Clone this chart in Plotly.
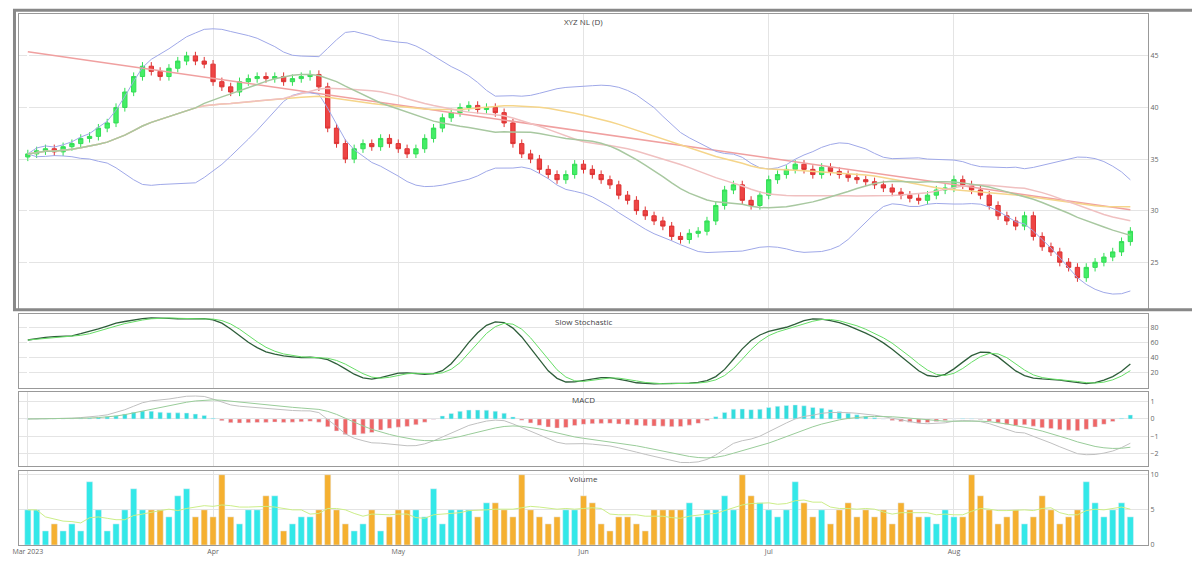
import numpy as np, pandas as pd
import plotly.graph_objects as go
from plotly.subplots import make_subplots

closes = [35.5,35.8,36.0,35.7,36.2,36.5,37.0,37.2,38.0,38.5,40.0,41.5,43.0,
          44,43.5,43,43.8,44.5,45,44.5,44.2,
          42.5,42,41.5,42.5,42.8,43,42.8,43,42.5,42.8,43,43.2,
          42,38,36.5,35,
          36,36.5,36.2,37,36.5,36,35.5,36,37,38,
          39,39.5,40,40.2,39.8,40,39.5,38.5,
          36.5,35.5,35,34,33.5,33,33.5,34.5,
          34,33.5,33,32.5,31.5,31,30,29.5,29,28.5,
          27.5,27.2,27.8,28,29,30.5,32,
          32.5,31,30.5,31.5,33,33.5,
          34,34.5,34,33.5,34.2,33.8,33.5,33.2,33,32.8,
          32.5,32.2,31.8,31.5,31.2,31,31.5,32,32.2,
          33,32.5,32,31.5,30.5,29.5,
          29,28.5,29.5,27.5,26.5,26,25,24.5,23.5,
          24.5,25,25.5,26,27,28]
volume = [5,5,2,3,2,3,2,9,5,2,3,5,8,
          5,5,5,4,7,8,4,5,4,10,4,3,
          5,5,7,7,2,3,4,4,5,10,
          5,3,2,3,5,2,4,5,5,5,4,
          8,3,5,5,5,4,6,6,5,4,
          10,5,4,3,4,5,5,7,6,
          3,2,4,4,3,2,5,5,5,
          5,6,4,5,5,7,5,
          10,7,6,5,4,5,9,
          6,4,5,3,5,6,4,5,4,
          5,3,6,5,4,4,3,5,4,
          4,10,7,5,3,4,5,3,4,
          7,5,3,4,5,9,6,4,5,
          6,4,8,5,6]
volume = volume[:len(closes)]
month_ticks = [0, 21, 42, 63, 84, 105]
month_labels = ["Mar 2023", "Apr", "May", "Jun", "Jul", "Aug"]

c = pd.Series(closes)
o = c.shift(1).fillna(c.iloc[0] - 0.3)
h = np.maximum(o, c) + 0.4
l = np.minimum(o, c) - 0.4
x = np.arange(len(c))
sma20 = c.rolling(20, min_periods=1).mean()
sma30 = c.rolling(30, min_periods=1).mean()
sma50 = c.rolling(50, min_periods=1).mean()
sd = c.rolling(20, min_periods=1).std().fillna(0)
bbu, bbl = sma20 + 2*sd, sma20 - 2*sd
coef = np.polyfit(x, c, 1); trend = np.polyval(coef, x) + 3
lo14 = pd.Series(l).rolling(14, min_periods=1).min(); hi14 = pd.Series(h).rolling(14, min_periods=1).max()
k = (100*(c-lo14)/(hi14-lo14)).rolling(5, min_periods=1).mean().rolling(3, min_periods=1).mean()
d = k.rolling(3, min_periods=1).mean()
macd = c.ewm(span=12).mean() - c.ewm(span=26).mean()
sig = macd.ewm(span=9).mean(); hist = macd - sig
vol = pd.Series(volume); vma = vol.rolling(10, min_periods=1).mean()
up = c >= o

fig = make_subplots(rows=4, cols=1, shared_xaxes=True, vertical_spacing=0.01,
                    row_heights=[0.55, 0.14, 0.14, 0.15])
fig.add_trace(go.Scatter(x=x, y=trend, line=dict(color="#f0a0a0", width=1.5)), 1, 1)
fig.add_trace(go.Scatter(x=x, y=bbu, line=dict(color="#9fa8e8", width=1)), 1, 1)
fig.add_trace(go.Scatter(x=x, y=bbl, line=dict(color="#9fa8e8", width=1)), 1, 1)
fig.add_trace(go.Scatter(x=x, y=sma50, line=dict(color="#f5d58a", width=1.5)), 1, 1)
fig.add_trace(go.Scatter(x=x, y=sma30, line=dict(color="#f0c0c0", width=1.5)), 1, 1)
fig.add_trace(go.Scatter(x=x, y=sma20, line=dict(color="#a8c8a0", width=1.5)), 1, 1)
fig.add_trace(go.Candlestick(x=x, open=o, high=h, low=l, close=c,
        increasing=dict(line=dict(color="#33dd55", width=1), fillcolor="#44ee66"),
        decreasing=dict(line=dict(color="#dd3333", width=1), fillcolor="#ee4444")), 1, 1)
fig.add_trace(go.Scatter(x=x, y=k, line=dict(color="#2e5e3a", width=1.3)), 2, 1)
fig.add_trace(go.Scatter(x=x, y=d, line=dict(color="#66dd66", width=1)), 2, 1)
fig.add_trace(go.Bar(x=x, y=hist, marker_color=["#33dddd" if v >= 0 else "#ee6666" for v in hist], width=0.5), 3, 1)
fig.add_trace(go.Scatter(x=x, y=macd, line=dict(color="#c0c0c0", width=1)), 3, 1)
fig.add_trace(go.Scatter(x=x, y=sig, line=dict(color="#99cc99", width=1)), 3, 1)
fig.add_trace(go.Bar(x=x, y=vol, marker_color=["#33e8e8" if u else "#f5b030" for u in up], width=0.7), 4, 1)
fig.add_trace(go.Scatter(x=x, y=vma, line=dict(color="#ccee88", width=1)), 4, 1)

domains = [(0.444, 0.998), (0.296, 0.434), (0.148, 0.287), (0.0, 0.139)]
ax = dict(showgrid=True, gridcolor="#e4e4e4", side="right", tickfont=dict(size=7, color="#666"),
          showline=True, linecolor="#999", mirror=True, zeroline=False)
for r in range(1, 5):
    fig.update_yaxes(ax, domain=domains[r-1], row=r, col=1)
    fig.update_xaxes(showgrid=True, gridcolor="#e4e4e4", showline=True, linecolor="#999", mirror=True,
                     tickvals=month_ticks, ticktext=month_labels, tickfont=dict(size=7, color="#666"),
                     rangeslider_visible=False, range=[-1, len(c)+1], row=r, col=1)
fig.update_xaxes(showticklabels=False, row=1, col=1)
fig.update_xaxes(showticklabels=True, row=4, col=1)
titles = ["XYZ NL (D)", "Slow Stochastic", "MACD", "Volume"]
for t, (_, top) in zip(titles, domains):
    fig.add_annotation(text=t, x=0.5, y=top, xref="paper", yref="paper", showarrow=False,
                       yanchor="top", font=dict(size=8, color="#444"))
fig.update_layout(width=1200, height=555, showlegend=False, plot_bgcolor="white", paper_bgcolor="white",
                  margin=dict(l=8, r=60, t=4, b=18), bargap=0.3,
                  shapes=[dict(type="rect", xref="paper", yref="paper", x0=-0.004, x1=1.048, y0=0.442, y1=1.005,
                               line=dict(color="#888", width=3))])
fig.write_html("out.html")
